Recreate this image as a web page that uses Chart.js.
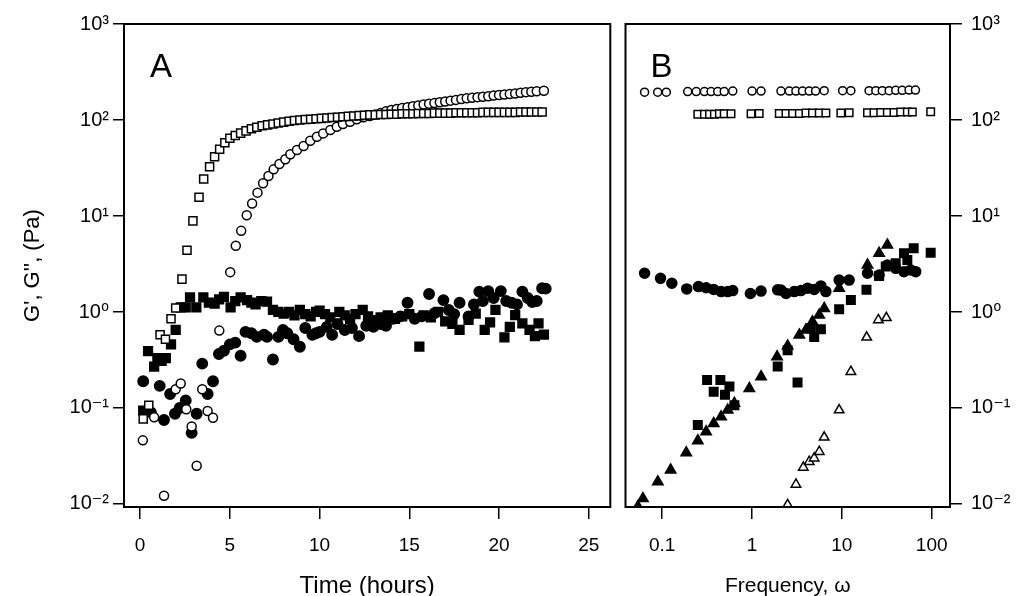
<!DOCTYPE html>
<html>
<head>
<meta charset="utf-8">
<script src="https://cdn.jsdelivr.net/npm/chart.js@4.4.0/dist/chart.umd.min.js"></script>
<style>
  body { margin: 0; background: #fff; }
  #wrap { position: relative; width: 1029px; height: 596px; }
  canvas { position: absolute; top: 0; }
</style>
</head>
<body>
<div id="wrap">
  <canvas id="chartA" width="618" height="596" style="left:0"></canvas>
  <canvas id="chartB" width="411" height="596" style="left:618px"></canvas>
</div>
<script>
// axis ticks
const timeTicks = [0, 5, 10, 15, 20, 25];
const freqTicks = [0.1, 1, 10, 100];
const freqTickLabels = ['0.1', '1', '10', '100'];
const modTicks = [0.01, 0.1, 1, 10, 100, 1000];
const modTickLabels = ['10⁻²', '10⁻¹', '10⁰', '10¹', '10²', '10³'];

// Panel A : [time (h), modulus (Pa)]
const openSquareA = [[0.17,0.077],[0.48,0.107],[1.11,0.58],[1.41,0.52],[1.72,0.85],[1.98,1.1],[2.33,2.2],[2.61,4.4],[2.94,8.9],[3.28,15.7],
  [3.54,24.3],[3.87,32.6],[4.15,41.5],[4.43,49.5],[4.72,58],[5.0,64.5],[5.3,69],[5.6,73],[5.9,77],[6.2,81],[6.5,84],[6.8,87],
  [7.1,89],[7.4,91],[7.7,93],[8.0,95],[8.3,97],[8.6,99],[8.9,100],[9.2,101],[9.5,102],[9.8,103],[10.1,104],[10.4,105],[10.7,106],
  [11.0,107],[11.3,108],[11.6,109],[11.9,110],[12.2,111],[12.5,112],[12.8,113],[13.1,113],[13.4,114],[13.7,114],[14.0,115],
  [14.3,115],[14.6,116],[14.9,116],[15.2,116],[15.5,117],[15.8,117],[16.1,117],[16.4,118],[16.7,118],[17.0,118],[17.3,118],
  [17.6,119],[17.9,119],[18.2,119],[18.5,119],[18.8,119],[19.1,120],[19.4,120],[19.7,120],[20.0,120],[20.3,120],[20.6,120],
  [20.9,120],[21.2,121],[21.5,121],[21.8,121],[22.1,121],[22.4,121]];
const openCircleA = [[0.15,0.046],[0.78,0.08],[1.33,0.0122],[1.98,0.157],[2.26,0.18],[2.57,0.097],[2.87,0.064],[3.15,0.025],
  [3.46,0.157],[3.76,0.093],[4.06,0.079],[4.41,0.64],[5.02,2.6],[5.33,4.9],[5.63,7.0],[5.94,10.2],[6.24,13.5],[6.54,17.5],
  [6.85,21.9],[7.15,26.1],[7.44,30.6],[7.76,34.8],[8.09,39],[8.37,44],[8.74,48.7],[9.11,53.6],[9.48,60.8],[9.85,67],[10.2,72.5],
  [10.6,78.7],[10.96,85],[11.3,90.8],[11.7,96],[12.07,101.6],[12.44,107],[12.8,110],[13.1,114],[13.4,118],[13.7,123],[14.0,127],
  [14.3,130],[14.6,133],[14.9,136],[15.2,139],[15.5,142],[15.8,145],[16.1,148],[16.4,150],[16.7,153],[17.0,156],[17.3,159],
  [17.6,162],[17.9,165],[18.2,168],[18.5,170],[18.8,173],[19.1,175],[19.4,177],[19.7,180],[20.0,182],[20.3,184],[20.6,186],
  [20.9,189],[21.2,192],[21.5,195],[21.8,197],[22.1,199],[22.5,202]];
const filledSquareA = [[0.17,0.094],[0.44,0.39],[0.78,0.27],[0.96,0.33],[1.2,0.31],[1.43,0.33],[1.72,0.46],[1.98,0.65],[2.26,1.12],
  [2.54,1.12],[2.78,1.42],[3.13,1.12],[3.52,1.42],[3.83,1.25],[4.15,1.22],[4.4,1.35],[4.67,1.44],[5.04,1.12],[5.3,1.3],[5.6,1.42],
  [5.96,1.33],[6.2,1.25],[6.43,1.2],[6.75,1.3],[7.07,1.28],[7.4,1.05],[7.7,1.0],[8.0,0.96],[8.3,1.0],[8.6,0.92],[8.9,1.05],
  [9.2,0.95],[9.5,0.9],[9.8,1.0],[10.0,1.03],[10.3,0.95],[10.6,0.88],[11.1,1.0],[11.4,0.92],[11.7,0.85],[12.0,0.95],[12.4,1.05],
  [12.7,0.9],[13.0,0.82],[13.4,0.88],[13.8,0.92],[14.2,0.85],[14.6,0.9],[15.0,0.95],[15.56,0.435],[15.8,0.92],[16.2,0.88],
  [16.6,1.0],[17.0,0.8],[17.4,0.75],[17.8,0.65],[18.3,0.83],[18.7,0.96],[19.2,0.65],[19.5,0.78],[19.8,1.05],[20.3,0.545],
  [20.6,0.7],[20.9,0.93],[21.3,0.76],[21.7,0.65],[22.0,0.56],[22.2,0.76],[22.5,0.58]];
const filledCircleA = [[0.17,0.19],[0.6,0.09],[1.09,0.17],[1.33,0.075],[1.67,0.14],[1.94,0.087],[2.2,0.1],[2.54,0.12],[2.87,0.055],
  [3.15,0.087],[3.46,0.29],[3.76,0.14],[4.06,0.19],[4.39,0.365],[4.67,0.395],[5.0,0.46],[5.3,0.48],[5.6,0.35],[5.87,0.62],[6.2,0.6],
  [6.5,0.55],[6.9,0.58],[7.07,0.55],[7.4,0.32],[7.7,0.55],[7.96,0.65],[8.2,0.6],[8.55,0.52],[8.9,0.435],[9.2,0.68],[9.6,0.58],
  [9.8,0.6],[10.0,0.62],[10.4,0.7],[10.7,0.58],[11.0,0.75],[11.4,0.65],[11.8,0.68],[12.2,0.56],[12.6,0.72],[13.0,0.7],[13.4,0.75],
  [13.7,0.72],[14.1,0.85],[14.5,0.9],[14.9,1.25],[15.3,0.85],[15.7,0.9],[16.1,1.54],[16.4,0.97],[16.9,1.33],[17.2,1.05],
  [17.5,0.95],[17.8,1.25],[18.3,0.9],[18.6,1.2],[18.9,1.63],[19.1,1.3],[19.4,1.65],[19.7,1.4],[20.1,1.65],[20.4,1.3],[20.7,1.25],
  [21.0,1.2],[21.3,1.63],[21.6,1.4],[21.85,1.27],[22.1,1.3],[22.4,1.77],[22.6,1.75]];

// Panel B : [frequency, modulus (Pa)]
const openCircleB = [[0.0636,195],[0.089,195],[0.111,195],[0.192,198],[0.239,198],[0.295,198],[0.35,198],[0.415,198],[0.49,198],
  [0.61,200],[1.0,200],[1.26,200],[2.1,200],[2.6,200],[3.08,200],[3.65,200],[4.33,200],[5.1,200],[6.36,202],[10.2,202],[12.6,202],
  [20.1,202],[23.9,202],[28.2,202],[33.6,202],[39.8,204],[47,204],[56,205],[66,205]];
const openSquareB = [[0.249,115],[0.295,115],[0.336,115],[0.381,115],[0.433,116],[0.49,116],[0.583,116],[0.975,116],[1.2,117],
  [2.01,117],[2.39,117],[2.83,117],[3.36,117],[3.98,118],[4.71,118],[5.6,118],[6.64,118],[9.75,118],[12.05,119],[19.3,119],
  [22.8,119],[27.1,120],[32.1,120],[38.1,120],[45.2,121],[53.6,121],[60.9,121],[97.5,122]];
const filledCircleB = [[0.0636,2.53],[0.0957,2.24],[0.128,1.99],[0.1875,1.74],[0.253,1.84],[0.308,1.79],[0.374,1.72],[0.453,1.63],
  [0.536,1.63],[0.61,1.67],[0.958,1.56],[1.26,1.65],[1.93,1.7],[2.1,1.69],[2.39,1.56],[2.95,1.63],[3.5,1.67],[4.15,1.77],
  [4.92,1.72],[5.84,1.87],[6.64,1.63],[9.33,2.15],[12.05,2.15],[19.3,2.53],[26,2.43],[32.1,3.09],[39.8,2.85],[49.2,2.63],
  [58.4,2.74],[66.4,2.63]];
const filledTriangleB = [[0.0536,0.0094],[0.061,0.0114],[0.0894,0.017],[0.124,0.0226],[0.185,0.0342],[0.249,0.0457],[0.308,0.0566],
  [0.374,0.069],[0.453,0.081],[0.536,0.095],[0.636,0.112],[0.933,0.16],[1.26,0.212],[1.9,0.342],[2.49,0.443],[3.36,0.576],
  [3.98,0.65],[4.71,0.79],[5.6,0.93],[6.36,1.09],[9.33,1.77],[19.3,3.09],[26,4.09],[32.1,4.99]];
const filledSquareB = [[0.249,0.0665],[0.316,0.196],[0.374,0.148],[0.444,0.196],[0.5,0.137],[0.56,0.167],[0.636,0.107],[1.93,0.27],
  [2.49,0.4],[3.21,0.184],[4.52,0.676],[4.92,0.55],[5.84,0.66],[9.33,1.07],[12.6,1.33],[18.8,1.7],[26,2.37],[30.8,2.97],
  [39.8,3.22],[49.2,4.09],[53.6,3.48],[63.1,4.61],[97.5,4.15]];
const openTriangleB = [[2.49,0.0098],[3.08,0.016],[3.72,0.024],[4.33,0.0276],[4.92,0.03],[5.6,0.035],[6.36,0.0495],[9.33,0.095],
  [12.6,0.239],[18.9,0.545],[25.5,0.826],[31.3,0.87]];

const FONT = "'Liberation Sans', Arial, 'DejaVu Sans', sans-serif";
Chart.defaults.font.family = FONT;
Chart.defaults.color = '#000';

function pts(arr) {
  return arr.map(p => ({ x: p[0], y: p[1] }));
}

function series(arr, style, radius, filled) {
  return {
    data: pts(arr),
    pointStyle: style,
    pointRadius: radius,
    pointHoverRadius: radius,
    pointBackgroundColor: filled ? '#000' : '#fff',
    pointBorderColor: '#000',
    pointBorderWidth: 1.5,
    showLine: false
  };
}

// black frame round the plot area + panel letter
const framePlugin = {
  id: 'frame',
  afterDraw(chart, args, opts) {
    const { ctx, chartArea: a } = chart;
    ctx.save();
    ctx.strokeStyle = '#000';
    ctx.lineWidth = 2;
    ctx.strokeRect(a.left, a.top, a.right - a.left, a.bottom - a.top);
    ctx.fillStyle = '#000';
    ctx.font = '33px ' + FONT;
    ctx.textBaseline = 'alphabetic';
    ctx.fillText(opts.letter, a.left + opts.dx, 77);
    ctx.restore();
  }
};

const gridOpts = { drawOnChartArea: false, drawTicks: true, tickLength: 12, color: '#000', lineWidth: 1.5 };

let mychartA = new Chart(document.getElementById('chartA'), {
  type: 'scatter',
  data: {
    datasets: [
      series(openSquareA, 'rect', 5.7, false),
      series(openCircleA, 'circle', 4.5, false),
      series(filledSquareA, 'rect', 6.2, true),
      series(filledCircleA, 'circle', 5.2, true)
    ]
  },
  options: {
    responsive: false,
    animation: false,
    layout: { padding: { top: 24, right: 6, left: 0, bottom: 0 } },
    plugins: { legend: { display: false }, tooltip: { enabled: false }, frame: { letter: 'A', dx: 26 } },
    scales: {
      x: {
        type: 'linear', min: -0.9, max: 26.2,
        afterBuildTicks: s => { s.ticks = timeTicks.map(v => ({ value: v })); },
        afterFit: s => { s.height = 89; },
        ticks: { font: { size: 19 }, padding: 15, maxRotation: 0, autoSkip: false },
        grid: gridOpts,
        border: { display: false },
        title: { display: true, text: 'Time (hours)', font: { size: 24 }, padding: { top: 0, bottom: -5 } }
      },
      y: {
        type: 'logarithmic', min: 0.0093, max: 1000,
        afterBuildTicks: s => { s.ticks = modTicks.map(v => ({ value: v })); },
        afterFit: s => { s.width = 124; },
        ticks: { font: { size: 20 }, padding: 4, autoSkip: false,
          callback: (v, i) => modTickLabels[i] },
        grid: Object.assign({}, gridOpts, { tickLength: 11 }),
        border: { display: false },
        title: { display: true, text: "G', G'', (Pa)", font: { size: 22 }, padding: { top: 20 } }
      }
    }
  },
  plugins: [framePlugin]
});

let mychartB = new Chart(document.getElementById('chartB'), {
  type: 'scatter',
  data: {
    datasets: [
      series(openCircleB, 'circle', 4, false),
      series(openSquareB, 'rect', 5.3, false),
      series(filledCircleB, 'circle', 5, true),
      series(filledTriangleB, 'triangle', 6, true),
      series(filledSquareB, 'rect', 6, true),
      series(openTriangleB, 'triangle', 5.5, false)
    ]
  },
  options: {
    responsive: false,
    animation: false,
    layout: { padding: { top: 24, right: 0, left: 7, bottom: 0 } },
    plugins: { legend: { display: false }, tooltip: { enabled: false }, frame: { letter: 'B', dx: 25 } },
    scales: {
      x: {
        type: 'logarithmic', min: 0.039, max: 160,
        afterBuildTicks: s => { s.ticks = freqTicks.map(v => ({ value: v })); },
        afterFit: s => { s.height = 89; },
        ticks: { font: { size: 19 }, padding: 15, maxRotation: 0, autoSkip: false,
          callback: (v, i) => freqTickLabels[i] },
        grid: gridOpts,
        border: { display: false },
        title: { display: true, text: 'Frequency, ω', font: { size: 21 }, padding: { top: 0, bottom: -3 } }
      },
      y: {
        type: 'logarithmic', position: 'right', min: 0.0093, max: 1000,
        afterBuildTicks: s => { s.ticks = modTicks.map(v => ({ value: v })); },
        afterFit: s => { s.width = 79; },
        ticks: { font: { size: 20 }, padding: 9, autoSkip: false,
          callback: (v, i) => modTickLabels[i] },
        grid: gridOpts,
        border: { display: false }
      }
    }
  },
  plugins: [framePlugin]
});
</script>
</body>
</html>
